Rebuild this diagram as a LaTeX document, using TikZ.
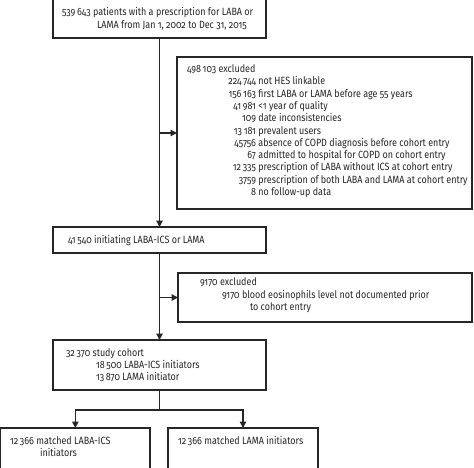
\documentclass[tikz,border=0pt]{standalone}
\usepackage{fontspec}
\setmainfont{Fira Sans}[Numbers=OldStyle, FakeStretch=0.855]
\usetikzlibrary{arrows.meta,calc}
\tikzset{
  box/.style={draw=black!85, line width=1.1pt, inner sep=0pt, outer sep=0pt, anchor=north west, fill=white},
  txt/.style={inner sep=0pt, outer sep=0pt, anchor=base west, font=\fontsize{10.5}{12.3}\selectfont, text=black!85},
  conn/.style={draw=black!85, line width=1.3pt},
  arr/.style={conn, -{Triangle[length=6.5pt,width=6.5pt]}},
}
\newcommand{\nr}[1]{\makebox[36pt][r]{#1}}
\begin{document}
\begin{tikzpicture}[x=1pt,y=-1pt]
\useasboundingbox (0,0) rectangle (474,467);
\clip (0,0) rectangle (474,467);
% boxes
\node[box, minimum width=213pt, minimum height=40pt] (n0) at (53,-2) {};
\node[box, minimum width=295pt, minimum height=152pt] (exA) at (177,57) {};
\node[box, minimum width=213pt, minimum height=26pt] (n1) at (53,227) {};
\node[box, minimum width=294pt, minimum height=49pt] (exB) at (178,273) {};
\node[box, minimum width=213pt, minimum height=50pt] (n2) at (53,340) {};
\node[box, minimum width=149.4pt, minimum height=52pt] (L) at (0.6,428) {};
\node[box, minimum width=150pt, minimum height=52pt] (R) at (168,428) {};
% connectors
\draw[arr] (n0.south) -- (n1.north);
\draw[arr] (n0.south |- exA.west) -- (exA.west);
\draw[arr] (n1.south) -- (n2.north);
\draw[arr] (n1.south |- exB.west) -- (exB.west);
\coordinate (split) at ($(n2.south)+(0,20)$);
\draw[conn] (n2.south) -- (split);
\draw[arr] (split) -| (L.north);
\draw[arr] (split) -| (R.north);
% texts
\node[txt] (t0a) at (62,15.5) {539\,643 patients with a prescription for LABA or};
\node[txt] (t0b) at (97,28) {LAMA from Jan 1, 2002 to Dec 31, 2015};
\node[txt] (ta0) at (187,72.5) {498\,103 excluded};
\node[txt] (ta1) at (220,84.8) {\nr{224\,744} not HES linkable};
\node[txt] (ta2) at (220,97.1) {\nr{156\,163} first LABA or LAMA before age 55 years};
\node[txt] (ta3) at (220,109.4) {\nr{41\,981} <1 year of quality};
\node[txt] (ta4) at (220,121.7) {\nr{109} date inconsistencies};
\node[txt] (ta5) at (220,134) {\nr{13\,181} prevalent users};
\node[txt] (ta6) at (220,146.3) {\nr{45756} absence of COPD diagnosis before cohort entry};
\node[txt] (ta7) at (220,158.6) {\nr{67} admitted to hospital for COPD on cohort entry};
\node[txt] (ta8) at (220,170.9) {\nr{12\,335} prescription of LABA without ICS at cohort entry};
\node[txt] (ta9) at (220,183.2) {\nr{3759} prescription of both LABA and LAMA at cohort entry};
\node[txt] (ta10) at (220,195.5) {\nr{8} no follow-up data};
\node[txt] (t1) at (68,243.5) {41\,540 initiating LABA-ICS or LAMA};
\node[txt] (tb0) at (200,285.5) {9170 excluded};
\node[txt] (tb1) at (222,298) {9170 blood eosinophils level not documented prior};
\node[txt] (tb2) at (250,310.3) {to cohort entry};
\node[txt] (t2a) at (66,356.5) {32\,370 study cohort};
\node[txt] (t2b) at (96,368.5) {18\,500 LABA-ICS initiators};
\node[txt] (t2c) at (96,380.5) {13\,870 LAMA initiator};
\node[txt] (tla) at (10,444.5) {12\,366 matched LABA-ICS};
\node[txt] (tlb) at (40,456.5) {initiators};
\node[txt] (tr) at (178,444.5) {12\,366 matched LAMA initiators};
\end{tikzpicture}
\end{document}
